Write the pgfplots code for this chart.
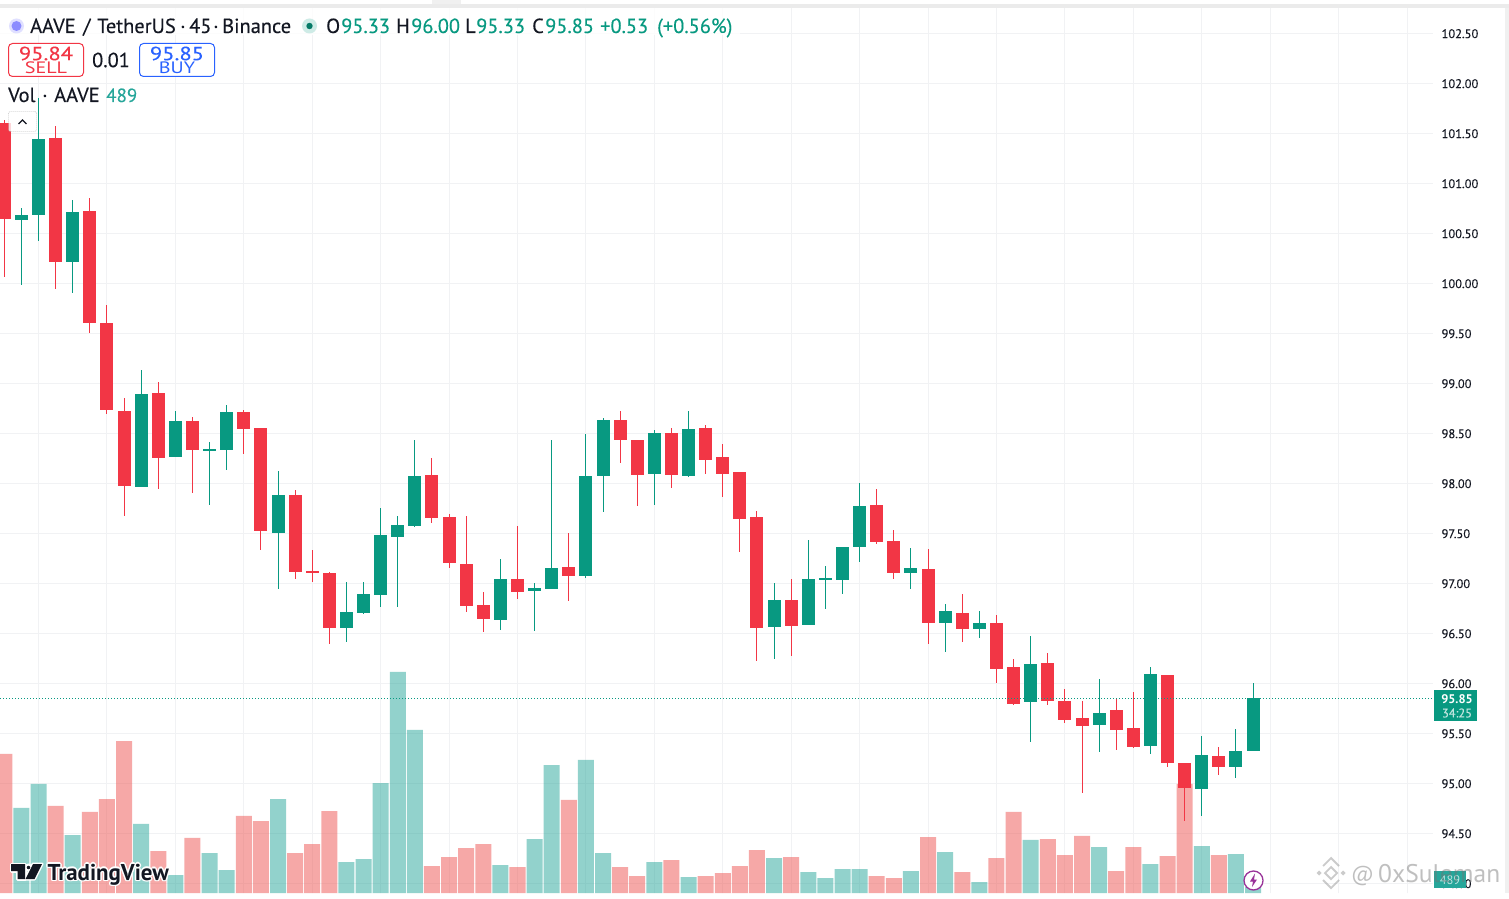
\documentclass[border=0pt]{standalone}
\usepackage{pgfplots}
\usepackage{pgfplotstable}
\pgfplotsset{compat=1.18}
\usepackage{fontspec}
\setmainfont{PT Sans}
\newfontfamily\medfont[FakeBold=0.25]{PT Sans}
\definecolor{candleup}{HTML}{089981}
\definecolor{candledn}{HTML}{F23645}
\definecolor{volup}{HTML}{26A69A}
\definecolor{voldn}{HTML}{EF5350}
\definecolor{gridc}{HTML}{F1F2F4}
\definecolor{buyc}{HTML}{2962FF}
\definecolor{inkc}{HTML}{131722}

% i open high low close
\pgfplotstableread{
i o h l c
1 100.63 100.75 99.98 100.68
2 100.68 101.85 100.42 101.44
4 100.21 100.83 99.90 100.71
8 97.96 99.13 97.96 98.89
10 98.26 98.72 98.26 98.62
12 98.33 98.41 97.78 98.34
13 98.33 98.78 98.13 98.71
16 97.50 98.12 96.94 97.88
20 96.55 97.01 96.41 96.71
21 96.70 97.01 96.69 96.89
22 96.88 97.75 96.76 97.48
23 97.46 97.67 96.76 97.58
24 97.57 98.43 97.56 98.07
29 96.63 97.24 96.53 97.04
31 96.92 97.00 96.52 96.95
32 96.94 98.43 96.94 97.15
34 97.07 98.49 97.05 98.07
35 98.07 98.65 97.71 98.63
38 98.09 98.53 97.78 98.50
40 98.07 98.72 98.06 98.54
45 96.56 97.00 96.24 96.83
47 96.58 97.43 96.58 97.04
48 97.04 97.17 96.74 97.05
49 97.03 97.36 96.89 97.36
50 97.36 98.00 97.21 97.77
53 97.10 97.35 96.94 97.15
55 96.60 96.79 96.31 96.72
57 96.54 96.72 96.45 96.60
60 95.81 96.47 95.41 96.19
64 95.58 96.04 95.31 95.70
67 95.37 96.16 95.29 96.09
70 94.94 95.47 94.67 95.28
72 95.16 95.54 95.05 95.32
73 95.32 96.00 95.32 95.85
}\upcandles

\pgfplotstableread{
i o h l c
0 101.60 101.63 100.06 100.64
3 101.45 101.57 99.94 100.21
5 100.72 100.85 99.50 99.60
6 99.60 99.78 98.69 98.73
7 98.72 98.85 97.67 97.97
9 98.90 99.01 97.94 98.25
11 98.62 98.66 97.90 98.33
14 98.71 98.73 98.29 98.54
15 98.55 98.55 97.33 97.52
17 97.88 97.93 97.04 97.11
18 97.12 97.33 97.01 97.11
19 97.10 97.11 96.39 96.55
25 98.08 98.25 97.60 97.65
26 97.66 97.69 97.15 97.20
27 97.19 97.67 96.71 96.77
28 96.78 96.91 96.51 96.64
30 97.04 97.57 96.84 96.91
33 97.16 97.50 96.82 97.07
36 98.63 98.72 98.20 98.43
37 98.43 98.43 97.77 98.08
39 98.50 98.55 97.95 98.08
41 98.55 98.58 98.09 98.23
42 98.26 98.39 97.86 98.09
43 98.11 98.11 97.31 97.64
44 97.66 97.72 96.22 96.55
46 96.83 97.04 96.27 96.57
51 97.78 97.94 97.39 97.41
52 97.42 97.53 97.04 97.10
54 97.14 97.34 96.39 96.60
56 96.70 96.89 96.41 96.54
58 96.60 96.68 96.00 96.14
59 96.16 96.24 95.78 95.79
61 96.20 96.30 95.78 95.82
62 95.82 95.94 95.60 95.63
63 95.65 95.82 94.90 95.57
65 95.73 95.85 95.33 95.53
66 95.55 95.91 95.35 95.36
68 96.08 96.08 95.16 95.20
69 95.20 95.20 94.62 94.95
71 95.27 95.36 95.08 95.16
}\dncandles

\pgfplotstableread{
i v
1 6928
2 8884
4 4727
8 5624
10 1467
12 3260
13 1875
16 7661
20 2527
21 2771
22 8965
23 18012
24 13285
29 2282
31 4401
32 10432
34 10840
35 3260
38 2527
40 1304
45 2853
47 1712
48 1223
49 1956
50 1956
53 1793
55 3342
57 897
60 4320
64 3749
67 2364
70 3831
72 3179
73 489
}\upvol

\pgfplotstableread{
i v
0 11329
3 7091
5 6602
6 7661
7 12388
9 3423
11 4483
14 6276
15 5868
17 3260
18 3994
19 6683
25 2201
26 2934
27 3668
28 3994
30 2119
33 7580
36 2119
37 1386
39 2690
41 1386
42 1630
43 2201
44 3505
46 2934
51 1386
52 1223
54 4564
56 1712
58 2853
59 6602
61 4401
62 3097
63 4646
65 1793
66 3749
68 3016
69 8884
71 3097
}\dnvol

\pgfplotsset{
  pane/.style={
    at={(0pt,5pt)}, anchor=south west,
    scale only axis, width=1433pt, height=885pt,
    xmin=-0.251, xmax=83.52,
    clip=true,
  },
  wicks/.style={draw=none, no marks, forget plot,
    error bars/.cd, y dir=both, y explicit, error mark=none,
    error bar style={line width=1pt, color=#1}},
  bodies/.style={draw=none, no marks, forget plot,
    error bars/.cd, y dir=both, y explicit, error mark=none,
    error bar style={line width=13pt, color=#1}},
}

% header text, baseline in reference pixels
\newcommand{\hdr}[4]{\node[anchor=base west, inner sep=0, text=#1, font=\medfont\fontsize{20.4}{24}\selectfont] at (#2,#3) {#4};}

\begin{document}
\begin{tikzpicture}
\path[use as bounding box] (0,0) rectangle (1509pt,898pt);
\fill[white] (0,0) rectangle (1509pt,898pt);

% grid and price scale
\begin{axis}[pane,
  ymin=93.903, ymax=102.753,
  axis line style={draw=none},
  major tick length=0pt,
  xtick={2,6,...,82}, xticklabels={},
  ytick={94,94.5,...,102.5},
  grid=major, grid style={gridc, line width=1pt},
  yticklabel pos=right,
  yticklabel style={anchor=west, xshift=5pt, yshift=-0.4pt, font=\medfont\fontsize{12.5}{14}\selectfont, text=inkc},
  /pgf/number format/assume math mode=true,
  /pgf/number format/fixed, /pgf/number format/fixed zerofill, /pgf/number format/precision=2,
]
\end{axis}

% volume pane
\begin{axis}[pane, hide axis,
  ymin=0, ymax=72127.5,
  ybar, bar width=16pt, bar shift=0pt,
]
\addplot[draw=none, fill=voldn, fill opacity=0.5] table[x=i, y=v] {\dnvol};
\addplot[draw=none, fill=volup, fill opacity=0.5] table[x=i, y=v] {\upvol};
\end{axis}

% candles
\begin{axis}[pane, hide axis,
  ymin=93.903, ymax=102.753,
]
\addplot[wicks=candleup] table[x=i, y expr=(\thisrow{h}+\thisrow{l})/2, y error expr=(\thisrow{h}-\thisrow{l})/2] {\upcandles};
\addplot[wicks=candledn] table[x=i, y expr=(\thisrow{h}+\thisrow{l})/2, y error expr=(\thisrow{h}-\thisrow{l})/2] {\dncandles};
\addplot[bodies=candleup] table[x=i, y expr=(\thisrow{o}+\thisrow{c})/2, y error expr=(\thisrow{c}-\thisrow{o})/2] {\upcandles};
\addplot[bodies=candledn] table[x=i, y expr=(\thisrow{o}+\thisrow{c})/2, y error expr=(\thisrow{o}-\thisrow{c})/2] {\dncandles};
\addplot[candleup, line width=1pt, dash pattern=on 1pt off 2pt, forget plot] coordinates {(-0.251,95.85)(83.52,95.85)};
\end{axis}

% overlays, in reference pixels
\begin{scope}[x=1pt, y=-1pt, yshift=898pt]
  % top band and right edge
  \fill[black!8] (0,4) rectangle (1509,8);
  \fill[black!6] (432,0) rectangle (461,4);
  \fill[black!6] (1505,8) rectangle (1509,893);

  % price tag
  \fill[candleup] (1434,690) rectangle (1477,721);
  \node[anchor=center, text=white, font=\fontsize{12.5}{14}\selectfont\bfseries] at (1457,699) {95.85};
  \node[anchor=center, text=white!75!candleup, font=\medfont\fontsize{12.5}{14}\selectfont] at (1457,713) {34:25};
  % volume tag
  \fill[volup] (1434,871) rectangle (1466,888);
  \node[anchor=center, text=white!70!volup, font=\fontsize{12.5}{14}\selectfont] at (1450,880) {489};

  % header
  \fill[white, opacity=0.8] (0,8) rectangle (740,35);
  \fill[blue!12] (16.5,26) circle (7.5);
  \fill[blue!45] (16.5,26) circle (5);
  \hdr{inkc}{30}{33}{AAVE}
  \hdr{inkc}{83}{33}{/}
  \hdr{inkc}{97}{33}{TetherUS}
  \hdr{inkc}{180}{33}{·}
  \hdr{inkc}{189}{33}{45}
  \hdr{inkc}{213}{33}{·}
  \hdr{inkc}{222}{33}{Binance}
  \fill[candleup!20] (309.5,26) circle (7.5);
  \fill[candleup!80!black] (309.5,26) circle (3.2);
  \hdr{inkc}{326}{33}{O}
  \hdr{candleup}{341}{33}{95.33}
  \hdr{inkc}{396}{33}{H}
  \hdr{candleup}{411}{33}{96.00}
  \hdr{inkc}{465}{33}{L}
  \hdr{candleup}{476}{33}{95.33}
  \hdr{inkc}{532}{33}{C}
  \hdr{candleup}{545}{33}{95.85}
  \hdr{candleup}{600}{33}{+0.53}
  \hdr{candleup}{657}{33}{(+0.56\%)}

  % sell and buy
  \draw[candledn, fill=white, rounded corners=4pt, line width=1pt] (8.5,43.5) rectangle (83.5,76.5);
  \node[text=candledn, font=\medfont\fontsize{19}{20}\selectfont] at (46,53.5) {\scalebox{1.19}[1]{95.84}};
  \node[text=candledn, font=\fontsize{16.5}{18}\selectfont] at (46,67.5) {\scalebox{1.22}[1]{SELL}};
  \node[text=inkc, font=\medfont\fontsize{20.4}{24}\selectfont] at (111,60) {0.01};
  \draw[buyc, fill=white, rounded corners=4pt, line width=1pt] (139.5,43.5) rectangle (214.5,76.5);
  \node[text=buyc, font=\medfont\fontsize{19}{20}\selectfont] at (177,53.5) {\scalebox{1.19}[1]{95.85}};
  \node[text=buyc, font=\fontsize{16.5}{18}\selectfont] at (177,67.5) {\scalebox{1.22}[1]{BUY}};

  % volume legend
  \hdr{inkc}{8}{102}{Vol}
  \hdr{inkc}{42}{102}{·}
  \hdr{inkc}{54}{102}{AAVE}
  \node[anchor=base west, inner sep=0, text=volup, font=\medfont\fontsize{19}{24}\selectfont] at (106,102) {489};

  % collapse button
  \draw[black!40, dash pattern=on 1pt off 1pt, fill=white, fill opacity=0.8, rounded corners=2pt] (8.5,111.5) rectangle (36.5,131.5);
  \draw[inkc, line width=1.3pt] (18.5,124) -- (22.5,120) -- (26.5,124);

  % TradingView mark
  \foreach \dx/\dy in {-1.5/0,1.5/0,0/-1.5,0/1.5,-1/-1,1/1,-1/1,1/-1} {
    \node[anchor=base west, inner sep=0, text=white, font=\fontsize{22.9}{24}\selectfont\bfseries] at (47.5+\dx,880+\dy) {TradingView};
  }
  \node[anchor=base west, inner sep=0, text=inkc, font=\fontsize{22.9}{24}\selectfont\bfseries] at (47.5,880) {TradingView};
  \begin{scope}[line join=round]
    \path[draw=white, line width=3pt, fill=inkc] (11,864) -- (25,864) -- (25,879) -- (17.5,879) -- (17.5,871) -- (11,871) -- cycle;
    \path[draw=white, line width=3pt, fill=inkc] (33,864) -- (42,864) -- (34.5,879) -- (25.5,879) -- cycle;
    \path[draw=white, line width=2pt, fill=inkc] (28.5,867.5) circle (3);
    \fill[inkc] (11,864) -- (25,864) -- (25,879) -- (17.5,879) -- (17.5,871) -- (11,871) -- cycle;
    \fill[inkc] (33,864) -- (42,864) -- (34.5,879) -- (25.5,879) -- cycle;
  \end{scope}

  % lightning badge
  \draw[violet!80, fill=white, line width=1.3pt] (1253.5,880.5) circle (9.5);
  \fill[violet!80] (1255,873.5) -- (1250,881.5) -- (1253,881.5) -- (1252,887) -- (1257,879.5) -- (1254,879.5) -- cycle;

  % watermark
  \begin{scope}[opacity=0.45]
    \node[anchor=base west, inner sep=0, text=black!55, font=\fontsize{21.5}{30}\selectfont] at (1351,881) {@};
    \node[anchor=base west, inner sep=0, text=black!55, font=\fontsize{25.5}{30}\selectfont] at (1378,882) {0xSuleman};
    \draw[black!45, line width=1.8pt] (1323,866) -- (1331,858) -- (1339,866);
    \draw[black!45, line width=1.8pt] (1323,880) -- (1331,888) -- (1339,880);
    \draw[black!45, line width=1.8pt] (1331,867) -- (1337,873) -- (1331,879) -- (1325,873) -- cycle;
    \fill[black!45] (1319,870.5) -- (1321.5,873) -- (1319,875.5) -- (1316.5,873) -- cycle;
    \fill[black!45] (1343,870.5) -- (1345.5,873) -- (1343,875.5) -- (1340.5,873) -- cycle;
  \end{scope}
\end{scope}
\end{tikzpicture}
\end{document}
